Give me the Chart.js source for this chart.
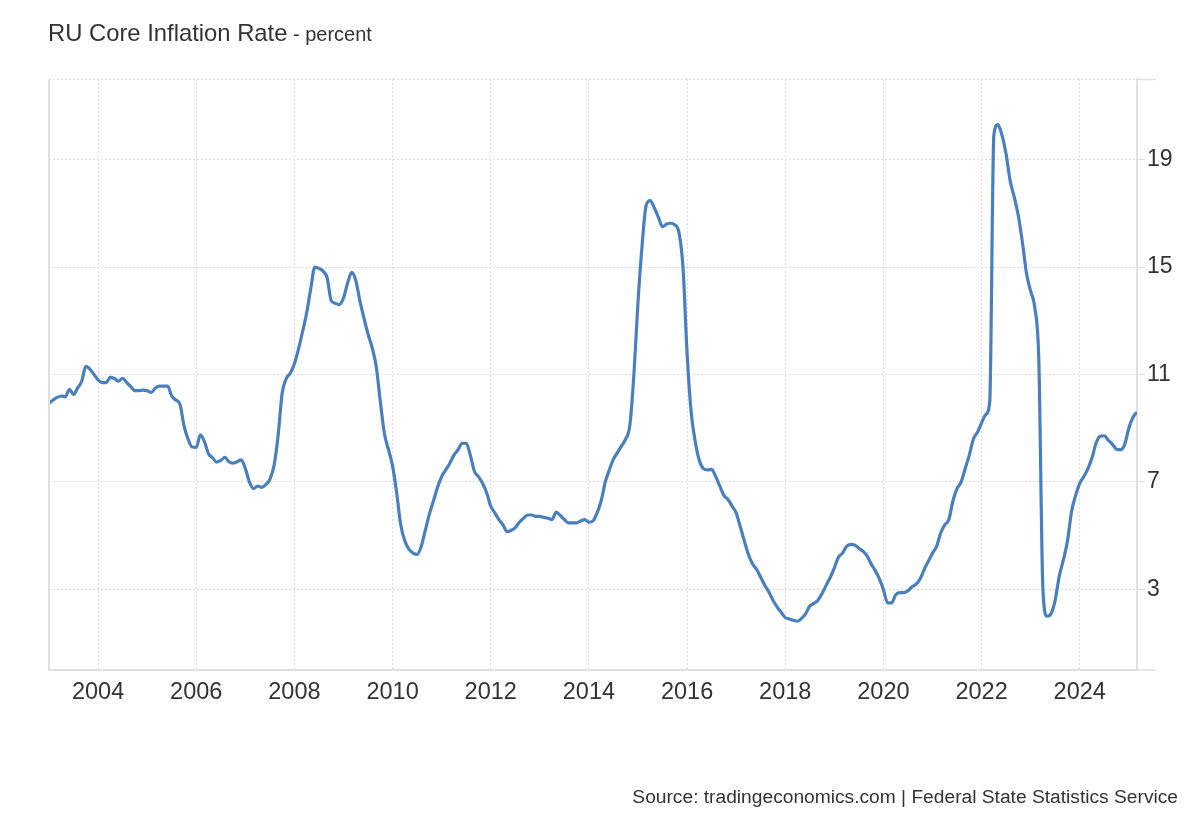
<!DOCTYPE html>
<html><head><meta charset="utf-8">
<script src="https://cdn.jsdelivr.net/npm/chart.js@4.4.1/dist/chart.umd.min.js"></script>
<style>html,body{margin:0;padding:0;background:#fff}#wrap{position:relative;width:1200px;height:820px}</style>
</head><body><div id="wrap"><canvas id="c"></canvas></div>
<script>
const titleText = "RU Core Inflation Rate";
const subtitleText = " - percent";
const sourceText = "Source: tradingeconomics.com | Federal State Statistics Service";
const startYear = 2003;
// monthly core inflation, Jan 2003 onwards (percent)
const coreInflation = [
  9.93, 10.05, 10.15, 10.2, 10.17, 10.45, 10.25, 10.5, 10.75, 11.3, 11.2, 11.0,   // 2003
  10.8, 10.7, 10.7, 10.9, 10.85, 10.75, 10.86, 10.7, 10.55, 10.4, 10.4, 10.42,   // 2004
  10.4, 10.33, 10.5, 10.57, 10.57, 10.57, 10.2, 10.05, 9.9, 9.1, 8.6, 8.3,        // 2005
  8.29, 8.75, 8.5, 8.05, 7.9, 7.74, 7.8, 7.92, 7.75, 7.7, 7.75, 7.82,             // 2006
  7.5, 7.0, 6.75, 6.85, 6.8, 6.9, 7.1, 7.6, 8.7, 10.3, 10.85, 11.05,              // 2007
  11.4, 11.95, 12.6, 13.3, 14.2, 15.0, 14.95, 14.85, 14.6, 13.75, 13.65, 13.6,    // 2008
  13.85, 14.4, 14.8, 14.5, 13.75, 13.1, 12.5, 12.0, 11.3, 10.0, 8.8, 8.2,         // 2009
  7.6, 6.6, 5.4, 4.8, 4.5, 4.35, 4.3, 4.6, 5.2, 5.8, 6.3, 6.8,                    // 2010
  7.2, 7.45, 7.7, 8.0, 8.2, 8.44, 8.44, 8.0, 7.4, 7.2, 6.95, 6.6,                 // 2011
  6.1, 5.85, 5.6, 5.4, 5.15, 5.2, 5.3, 5.5, 5.65, 5.77, 5.77, 5.72,               // 2012
  5.72, 5.68, 5.65, 5.6, 5.88, 5.75, 5.6, 5.48, 5.48, 5.48, 5.55, 5.6,            // 2013
  5.5, 5.55, 5.85, 6.3, 7.0, 7.45, 7.85, 8.1, 8.35, 8.6, 9.1, 11.0,               // 2014
  13.7, 15.8, 17.3, 17.47, 17.2, 16.85, 16.5, 16.6, 16.63, 16.57, 16.3, 15.0,     // 2015
  11.8, 9.6, 8.5, 7.8, 7.5, 7.45, 7.47, 7.2, 6.85, 6.5, 6.35, 6.1,                // 2016
  5.85, 5.34, 4.8, 4.3, 3.95, 3.75, 3.45, 3.15, 2.9, 2.6, 2.35, 2.15,             // 2017
  1.95, 1.9, 1.85, 1.82, 1.92, 2.1, 2.38, 2.48, 2.6, 2.85, 3.15, 3.45,            // 2018
  3.8, 4.2, 4.35, 4.6, 4.68, 4.65, 4.53, 4.42, 4.25, 3.95, 3.7, 3.4,              // 2019
  3.0, 2.5, 2.5, 2.8, 2.88, 2.88, 2.95, 3.1, 3.2, 3.4, 3.75, 4.05,                // 2020
  4.35, 4.6, 5.1, 5.4, 5.6, 6.3, 6.75, 7.0, 7.5, 8.0, 8.6, 8.85,                  // 2021
  9.2, 9.5, 10.0, 19.9, 20.3, 19.9, 19.2, 18.2, 17.6, 16.9, 15.9, 14.75,          // 2022
  14.1, 13.5, 11.5, 3.0, 2.0, 2.1, 2.6, 3.5, 4.1, 4.8, 5.9, 6.5,                  // 2023
  6.95, 7.2, 7.5, 7.9, 8.45, 8.7, 8.72, 8.55, 8.4, 8.22, 8.2, 8.4,                // 2024
  9.0, 9.4, 9.6                                                                   // 2025
];
const xTickYears = [2004, 2006, 2008, 2010, 2012, 2014, 2016, 2018, 2020, 2022, 2024];
const yTickValues = [3, 7, 11, 15, 19];
const yMin = 0, yMax = 22;

const points = coreInflation.map((v, i) => ({ x: startYear + i / 12, y: v }));
const xMax = startYear + (coreInflation.length - 1) / 12;

const FONT = "'Liberation Sans', Arial, sans-serif";
const GRID = '#dcdcdc';
const AXIS = '#e0e0e0';

const decor = {
  id: 'decor',
  beforeDraw(chart) {
    const ctx = chart.ctx;
    ctx.save();
    ctx.fillStyle = '#fff';
    ctx.fillRect(0, 0, chart.width, chart.height);
    ctx.restore();
  },
  afterDraw(chart) {
    const ctx = chart.ctx, a = chart.chartArea;
    ctx.save();
    ctx.strokeStyle = AXIS; ctx.lineWidth = 2;
    ctx.beginPath();
    ctx.moveTo(a.left, a.top); ctx.lineTo(a.left, a.bottom);
    ctx.stroke();
    ctx.lineWidth = 1.5;
    ctx.beginPath();
    ctx.moveTo(a.right, a.top + 0.5); ctx.lineTo(a.right + 19, a.top + 0.5);
    ctx.moveTo(a.right, a.bottom); ctx.lineTo(a.right + 19, a.bottom);
    ctx.stroke();
    ctx.fillStyle = '#333';
    ctx.textBaseline = 'alphabetic';
    ctx.font = "23.8px " + FONT;
    ctx.fillText(titleText, 48, 41);
    const w = ctx.measureText(titleText).width;
    ctx.font = "20px " + FONT;
    ctx.fillText(subtitleText, 48 + w, 41);
    ctx.font = "19.2px " + FONT;
    ctx.textAlign = 'right';
    ctx.fillText(sourceText, 1178, 803);
    ctx.restore();
  }
};

new Chart(document.getElementById('c'), {
  type: 'line',
  data: {
    datasets: [{
      data: points,
      borderColor: '#4a7fbd',
      borderWidth: 3.2,
      pointRadius: 0,
      pointHoverRadius: 0,
      fill: false,
      cubicInterpolationMode: 'monotone'
    }]
  },
  options: {
    responsive: true,
    maintainAspectRatio: false,
    animation: false,
    events: [],
    layout: { padding: { left: 49, right: 0, top: 79, bottom: 0 } },
    plugins: { legend: { display: false }, tooltip: { enabled: false } },
    scales: {
      x: {
        type: 'linear',
        min: startYear,
        max: xMax,
        afterBuildTicks(s) { s.ticks = xTickYears.map(v => ({ value: v })); },
        afterFit(s) { s.height = 150; },
        grid: { color: GRID, lineWidth: 1, drawTicks: false },
        border: { display: true, color: AXIS, width: 2, dash: [2, 2] },
        ticks: {
          padding: 8,
          color: '#333',
          font: { family: FONT, size: 23.5 },
          maxRotation: 0,
          callback: v => String(v)
        }
      },
      y: {
        position: 'right',
        min: yMin,
        max: yMax,
        afterBuildTicks(s) { s.ticks = yTickValues.concat([yMax]).map(v => ({ value: v })); },
        afterFit(s) { s.width = 63; },
        grid: { color: GRID, lineWidth: 1, drawTicks: true, tickLength: 8, tickColor: AXIS },
        border: { display: true, color: AXIS, width: 2, dash: [2, 2] },
        ticks: {
          padding: 2,
          color: '#333',
          font: { family: FONT, size: 23 },
          callback: v => (v === yMax ? '' : String(v))
        }
      }
    }
  },
  plugins: [decor]
});
</script>
</body></html>
